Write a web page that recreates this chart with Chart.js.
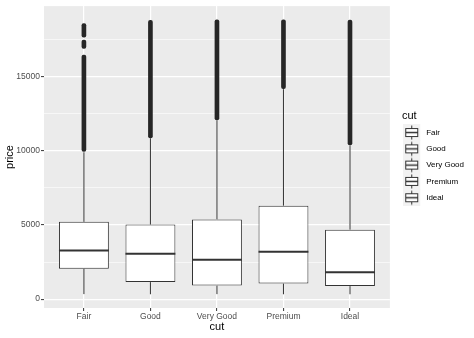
<!DOCTYPE html>
<html>
<head>
<meta charset="utf-8">
<script src="https://cdn.jsdelivr.net/npm/chart.js@4.4.1/dist/chart.umd.min.js"></script>
<style>
  html, body { margin: 0; padding: 0; background: #fff; }
</style>
</head>
<body>
<canvas id="chart" width="474" height="338"></canvas>
<script>
// price of diamonds by cut (boxplot stats)
const cuts = ['Fair', 'Good', 'Very Good', 'Premium', 'Ideal'];
const lowerWhisker = [337, 327, 336, 326, 326];
const q1 = [2050, 1145, 912, 1046, 878];
const median = [3282, 3050, 2648, 3185, 1810];
const q3 = [5206, 5028, 5373, 6296, 4678];
const upperWhisker = [9900, 10840, 12050, 14150, 10360];
// outliers are so dense they read as runs of dots: [from, to]
const outlierRuns = [
  [[9950, 16450], [16900, 17450], [17650, 18574]],
  [[10870, 18788]],
  [[12080, 18818]],
  [[14180, 18823]],
  [[10390, 18806]]
];
const yTicks = [0, 2500, 5000, 7500, 10000, 12500, 15000, 17500];
const yMin = -599;
const yMax = 19748;

const FONT = '"Liberation Sans", Arial, Helvetica, sans-serif';

// little boxplot glyph for the legend keys
function makeKey() {
  const c = document.createElement('canvas');
  c.width = 26;
  c.height = 17;
  const g = c.getContext('2d');
  g.fillStyle = '#f2f2f2';
  g.fillRect(0, 0, 17, 17);
  g.strokeStyle = '#333';
  g.lineWidth = 1;
  g.beginPath();
  g.moveTo(8.5, 1.5); g.lineTo(8.5, 15.5);
  g.stroke();
  g.fillStyle = '#fff';
  g.fillRect(2.5, 4.5, 12, 8);
  g.strokeRect(2.5, 4.5, 12, 8);
  g.lineWidth = 1.5;
  g.beginPath();
  g.moveTo(2.5, 8.5); g.lineTo(14.5, 8.5);
  g.stroke();
  return c;
}
const keyGlyph = makeKey();

const boxData = cuts.map((c, i) => ({ x: i + 1, y: [q1[i], q3[i]] }));
const outlierData = [];
outlierRuns.forEach((runs, i) => runs.forEach(r => outlierData.push({ x: i + 1, y: r })));

const panelBg = {
  id: 'panelBg',
  beforeDraw(chart) {
    const { ctx, chartArea: a } = chart;
    ctx.save();
    ctx.fillStyle = '#ebebeb';
    ctx.fillRect(a.left, a.top, a.right - a.left, a.bottom - a.top);
    ctx.restore();
  }
};

const whiskers = {
  id: 'whiskers',
  beforeDatasetsDraw(chart) {
    const { ctx } = chart;
    const xs = chart.scales.x, ys = chart.scales.y;
    ctx.save();
    ctx.strokeStyle = '#333';
    ctx.lineWidth = 1;
    cuts.forEach((c, i) => {
      const x = xs.getPixelForValue(i + 1);
      ctx.beginPath();
      ctx.moveTo(x, ys.getPixelForValue(lowerWhisker[i]));
      ctx.lineTo(x, ys.getPixelForValue(q1[i]));
      ctx.moveTo(x, ys.getPixelForValue(q3[i]));
      ctx.lineTo(x, ys.getPixelForValue(upperWhisker[i]));
      ctx.stroke();
    });
    ctx.restore();
  },
  afterDatasetsDraw(chart) {
    const { ctx } = chart;
    const xs = chart.scales.x, ys = chart.scales.y;
    const boxes = chart.getDatasetMeta(0).data;
    ctx.save();
    ctx.strokeStyle = '#333';
    ctx.lineWidth = 2;
    cuts.forEach((c, i) => {
      const x = xs.getPixelForValue(i + 1);
      const half = boxes[i].width / 2;
      const y = ys.getPixelForValue(median[i]);
      ctx.beginPath();
      ctx.moveTo(x - half, y);
      ctx.lineTo(x + half, y);
      ctx.stroke();
    });
    ctx.restore();
  }
};

// nudge the legend away from the panel like ggplot's legend spacing
const legendGap = {
  id: 'legendGap',
  afterLayout(chart) {
    const lg = chart.legend;
    const w = lg.width;
    lg.left = chart.chartArea.right + 12;
    lg.right = lg.left + w;
    lg.top -= 11.5;
    lg.bottom -= 11.5;
  }
};

new Chart(document.getElementById('chart'), {
  type: 'bar',
  data: {
    datasets: [
      {
        label: 'box',
        data: boxData,
        backgroundColor: '#ffffff',
        borderColor: '#333333',
        borderWidth: 1,
        borderSkipped: false,
        barPercentage: 0.75,
        categoryPercentage: 1,
        grouped: false
      },
      {
        label: 'outliers',
        data: outlierData,
        backgroundColor: '#262626',
        borderWidth: 0,
        barThickness: 4,
        borderRadius: 2,
        borderSkipped: false,
        grouped: false
      }
    ]
  },
  options: {
    responsive: false,
    animation: false,
    layout: { padding: { top: 5, right: 12, left: 0, bottom: 0 } },
    plugins: {
      tooltip: { enabled: false },
      legend: {
        position: 'right',
        align: 'center',
        title: {
          display: true,
          text: 'cut',
          position: 'start',
          color: '#000',
          font: { family: FONT, size: 11, lineHeight: 0.93 },
          padding: 0
        },
        labels: {
          usePointStyle: true,
          pointStyleWidth: 12,
          padding: 8.3,
          color: '#000',
          font: { family: FONT, size: 8 },
          generateLabels: () => cuts.map(c => ({
            text: c,
            pointStyle: keyGlyph,
            fillStyle: 'transparent',
            strokeStyle: 'transparent',
            lineWidth: 0,
            hidden: false,
            datasetIndex: 0
          }))
        }
      }
    },
    scales: {
      x: {
        type: 'linear',
        offset: false,
        min: 0.4,
        max: 5.6,
        afterBuildTicks: s => { s.ticks = cuts.map((c, i) => ({ value: i + 1 })); },
        afterFit: s => { s.height = 30; },
        ticks: {
          callback: v => cuts[Math.round(v) - 1],
          color: '#4d4d4d',
          font: { family: FONT, size: 8.5 },
          padding: 1,
          maxRotation: 0,
          autoSkip: false
        },
        grid: {
          offset: false,
          color: '#ffffff',
          lineWidth: 1.2,
          tickLength: 3,
          tickColor: '#333333',
          tickWidth: 1
        },
        border: { display: false },
        title: {
          display: true,
          text: 'cut',
          color: '#000',
          font: { family: FONT, size: 11 },
          padding: { top: 0, bottom: 4.4 }
        }
      },
      y: {
        type: 'linear',
        min: yMin,
        max: yMax,
        afterBuildTicks: s => { s.ticks = yTicks.map(v => ({ value: v })); },
        afterFit: s => { s.width = 44; },
        ticks: {
          callback: v => (v % 5000 === 0 ? String(v) : ''),
          color: '#4d4d4d',
          font: { family: FONT, size: 8.5 },
          padding: 1,
          autoSkip: false
        },
        grid: {
          color: '#ffffff',
          lineWidth: ctx => (ctx.tick && ctx.tick.value % 5000 === 0 ? 1.2 : 0.6),
          tickLength: 3,
          tickColor: ctx => (ctx.tick && ctx.tick.value % 5000 === 0 ? '#333333' : 'rgba(0,0,0,0)'),
          tickWidth: 1
        },
        border: { display: false },
        title: {
          display: true,
          text: 'price',
          color: '#000',
          font: { family: FONT, size: 11 },
          padding: { top: 3.4, bottom: 0 }
        }
      }
    }
  },
  plugins: [panelBg, whiskers, legendGap]
});
</script>
</body>
</html>
